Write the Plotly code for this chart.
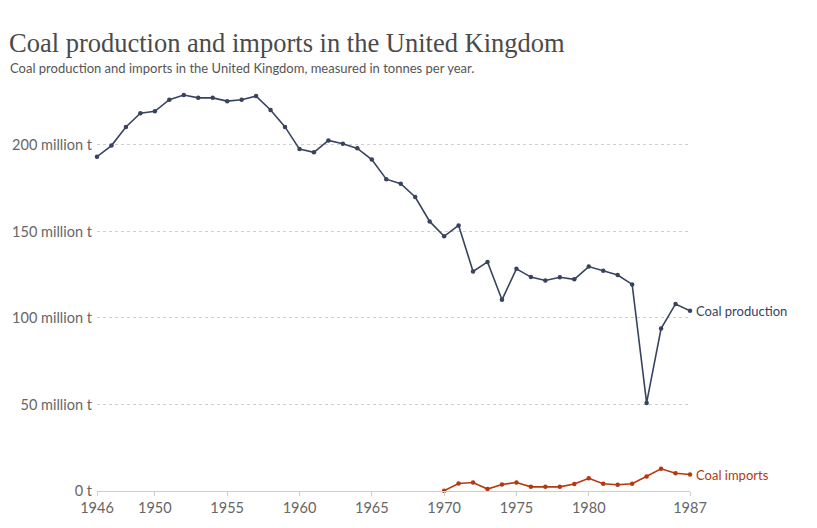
import plotly.graph_objects as go

years_prod = list(range(1946, 1988))
production = [193.2, 199.6, 210.4, 218.3, 219.4, 226.1, 228.8, 227.2, 227.2, 225.3,
              226.1, 228.2, 220.2, 210.4, 197.6, 195.7, 202.6, 200.7, 198.0, 191.5,
              180.2, 177.6, 169.9, 155.8, 147.2, 153.5, 126.9, 132.4, 110.5, 128.4,
              123.6, 121.7, 123.5, 122.3, 129.7, 127.3, 124.8, 119.4, 50.9, 93.9,
              108.1, 104.1]
years_imp = list(range(1970, 1988))
imports = [0.2, 4.3, 4.9, 1.1, 3.8, 4.9, 2.4, 2.4, 2.4, 4.0, 7.3, 4.2, 3.6, 4.2,
           8.4, 12.8, 10.3, 9.5]

x_ticks = [1946, 1950, 1955, 1960, 1965, 1970, 1975, 1980, 1987]
y_ticks = [0, 50, 100, 150, 200]
y_tick_labels = ["0 t", "50 million t", "100 million t", "150 million t", "200 million t"]

prod_color = "#37435f"
imp_color = "#b5380e"

W, H = 817, 528
L, R, T, B = 95, 127, 93, 34
pw, ph = W - L - R, H - T - B

def px_x(p):
    return (p - L) / pw

def px_y(p):
    return (H - B - p) / ph

fig = go.Figure()
fig.add_trace(go.Scatter(x=years_prod, y=production, mode="lines+markers",
                         line=dict(color=prod_color, width=1.6),
                         marker=dict(size=4.5, color=prod_color),
                         name="Coal production", cliponaxis=False))
fig.add_trace(go.Scatter(x=years_imp, y=imports, mode="lines+markers",
                         line=dict(color=imp_color, width=1.6),
                         marker=dict(size=4.5, color=imp_color),
                         name="Coal imports", cliponaxis=False))

fig.update_layout(
    width=W, height=H,
    margin=dict(l=L, r=R, t=T, b=B, pad=0),
    paper_bgcolor="white", plot_bgcolor="white",
    showlegend=False,
    font=dict(family="Lato, sans-serif", color="#666"),
    title=dict(text="Coal production and imports in the United Kingdom",
               x=9 / W, xanchor="left", xref="container",
               y=1 - 43 / H, yanchor="middle", yref="container",
               font=dict(family="Liberation Serif, serif", size=26.5, color="#4a4a4a")),
)

fig.update_xaxes(range=[1946, 1987], tickvals=x_ticks, ticktext=[str(v) for v in x_ticks],
                 showgrid=False, zeroline=False, showline=True, linecolor="#cccccc",
                 linewidth=1, ticks="outside", ticklen=4, tickcolor="#cccccc",
                 tickfont=dict(family="Lato", size=14.5, color="#666"))
fig.update_yaxes(range=[0, 230], tickvals=y_ticks, ticktext=y_tick_labels,
                 showgrid=True, gridcolor="#cfcfcf", griddash="3px,3px", gridwidth=1,
                 zeroline=False, showline=False, ticks="", ticklabelstandoff=4,
                 tickfont=dict(family="Lato", size=14.5, color="#666"))

fig.add_annotation(text="Coal production and imports in the United Kingdom, measured in tonnes per year.",
                   xref="paper", yref="paper", x=px_x(6), y=px_y(68),
                   xanchor="left", yanchor="middle", showarrow=False,
                   font=dict(family="Lato", size=13, color="#555"))
fig.add_annotation(text="Coal production", xref="x", yref="y",
                   x=years_prod[-1], y=production[-1], xanchor="left", yanchor="middle",
                   xshift=4, showarrow=False,
                   font=dict(family="Lato", size=13, color=prod_color))
fig.add_annotation(text="Coal imports", xref="x", yref="y",
                   x=years_imp[-1], y=imports[-1], xanchor="left", yanchor="middle",
                   xshift=4, showarrow=False,
                   font=dict(family="Lato", size=13, color=imp_color))

fig.write_html("out.html")
